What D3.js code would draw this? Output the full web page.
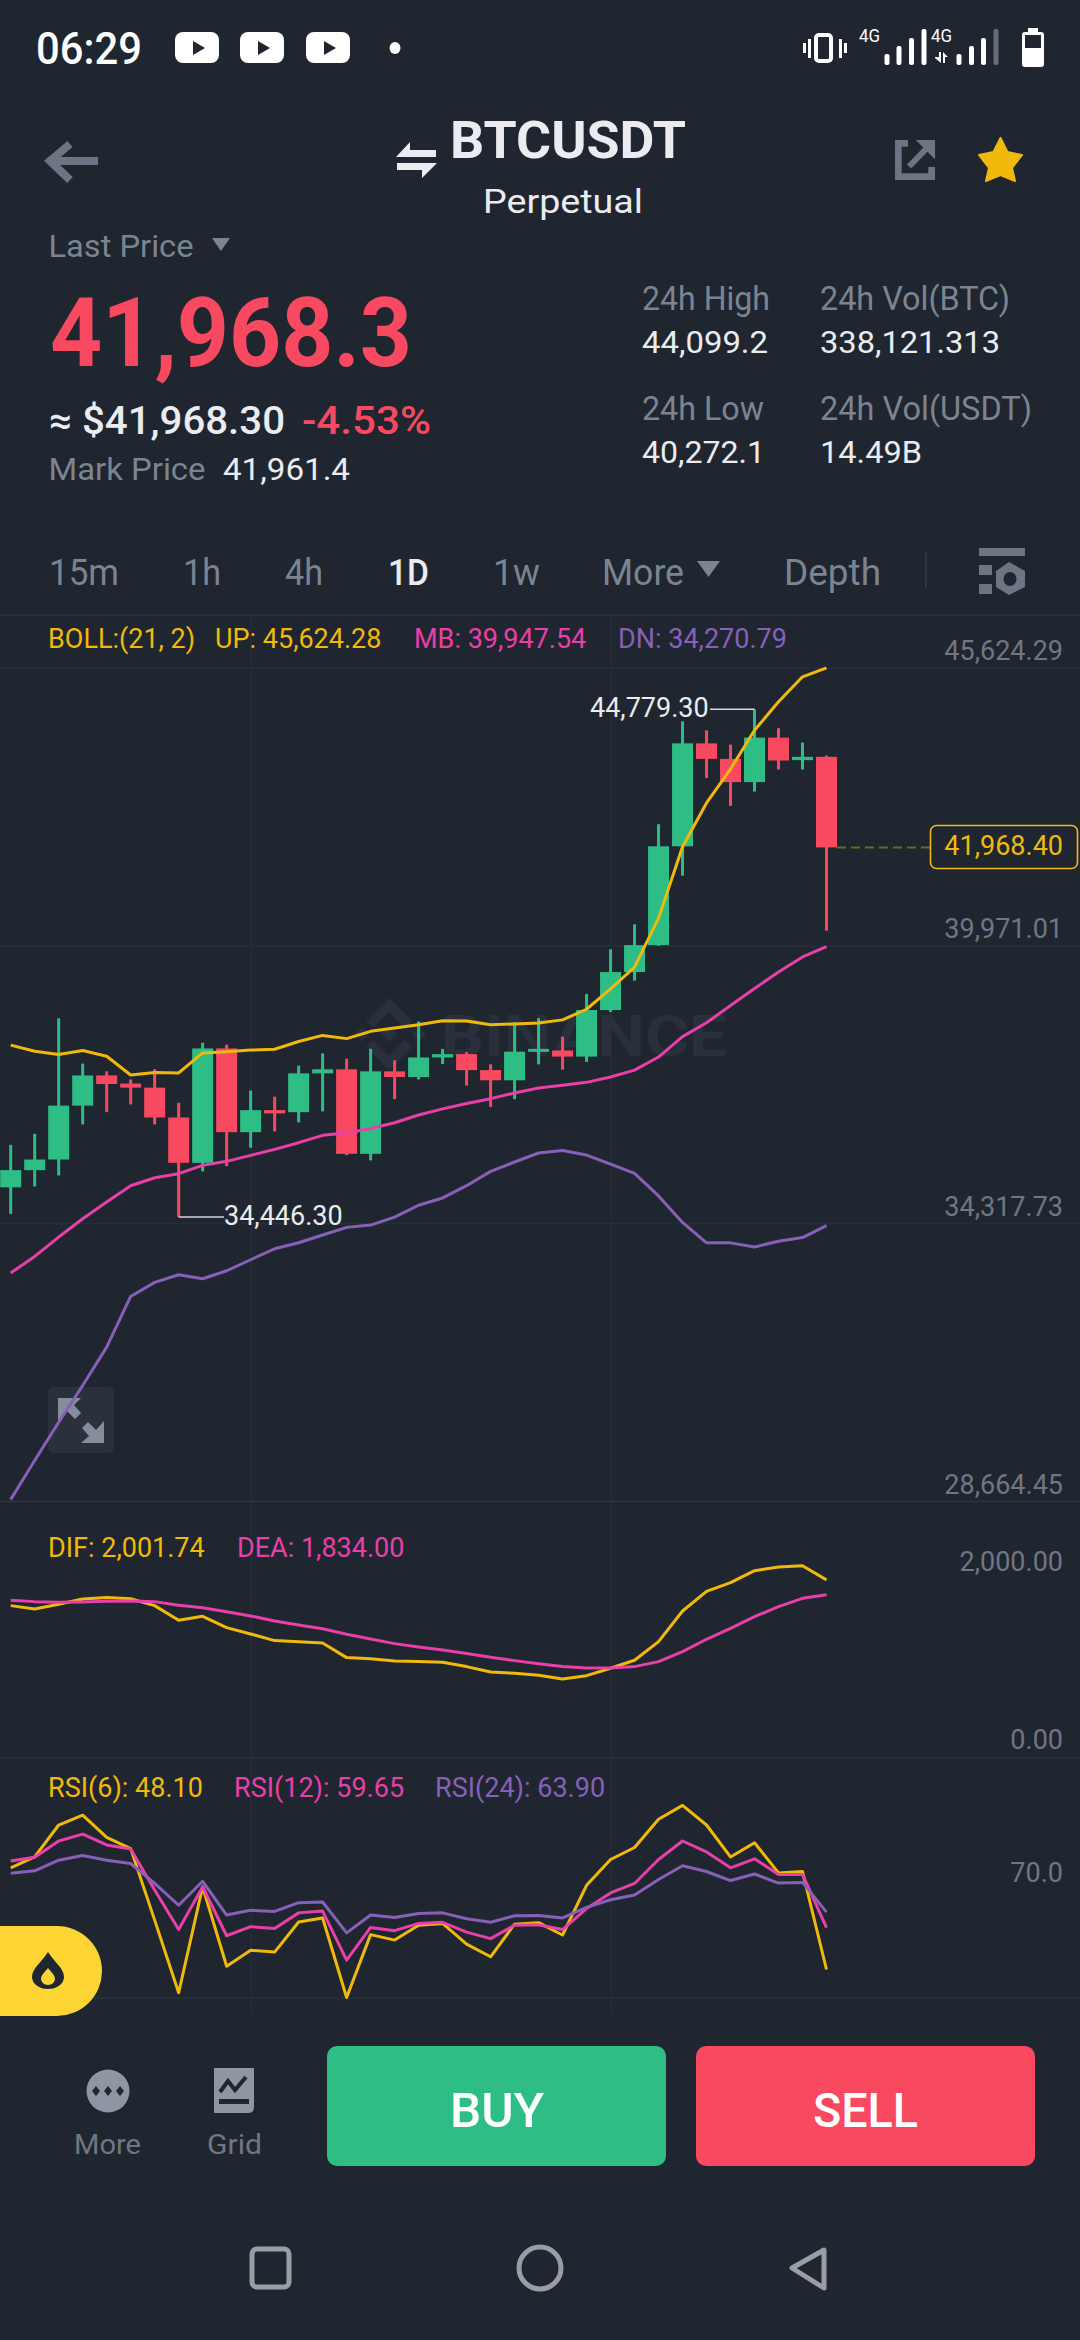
<!DOCTYPE html>
<html><head><meta charset="utf-8">
<script src="https://cdn.jsdelivr.net/npm/d3@7"></script>
<style>html,body{margin:0;padding:0;background:#1f2630}svg{display:block}text{font-family:Roboto,sans-serif}</style>
</head><body><div id="c"></div>
<script>
const opens =[35049,35399,35615,36712,37327,37161,37078,36471,35548,37876,36172,36621,36579,37369,37452,35731,37410,37294,37693,37760,37435,37228,37810,37835,37710,38658,39431,39979,41991,44086,43770,43297,44203,43745,43812];
const highs =[35914,36138,38491,37568,37410,37244,37452,36770,37992,37951,37020,36895,37527,37776,37668,37868,37635,38425,37868,37801,37552,38408,38491,38117,38982,39896,40403,42440,44535,44352,44061,44779.3,44394,44103,43837];
const lows  =[34509,35066,35291,36330,36579,36737,36330,34446.3,35374,35482,35856,36188,36371,36596,35706,35598,36845,37244,37560,37120,36687,36845,37552,37444,37602,38616,39256,39963,41393,43380,42814,43105,43554,43554,40272.1];
const closes=[35399,35615,36712,37327,37153,37078,36471,35548,37876,36172,36621,36554,37369,37452,35731,37410,37294,37693,37760,37435,37228,37810,37868,37710,38658,39431,39979,41991,44086,43770,43297,44203,43737,43812,41968.4];
const bollUp=[37943,37818,37751,37835,37718,37336,37386,37377,37785,37810,37843,37860,38017,38142,38076,38225,38292,38358,38441,38433,38358,38375,38392,38458,38674,39090,39530,40528,41983,42873,43563,44352,44934,45441,45624.28];
const bollMb=[33304,33643,34037,34410,34750,35082,35245,35327,35496,35578,35700,35822,35958,36107,36155,36247,36363,36521,36646,36754,36854,36970,37070,37128,37186,37294,37435,37701,38117,38400,38749,39098,39431,39738,39947.54];
const bollDn=[28694,29488,30269,31016,31796,32828,33114,33270,33188,33351,33575,33799,33921,34078,34234,34281,34444,34684,34833,35083,35374,35565,35748,35798,35706,35523,35332,34875,34334,33919,33919,33836,33952,34027,34270.79];
const dif=[1712,1674,1727,1787,1802,1790,1712,1547,1592,1465,1394,1319,1307,1292,1128,1116,1090,1083,1075,1027,967,952,929,888,925,1008,1098,1307,1652,1873,1970,2105,2146,2161,2001.74];
const dea=[1772,1757,1749,1753,1761,1764,1757,1716,1689,1644,1596,1540,1495,1453,1390,1337,1285,1247,1214,1173,1131,1094,1060,1027,1012,1012,1027,1083,1195,1334,1457,1588,1701,1794,1834];
const rsi6=[76.1,79.1,87.9,90.6,84.5,81.4,61.7,41.7,70.9,49.0,53.4,52.9,61.2,62.3,40.4,57.7,56.2,60.3,60.8,55.1,51.6,60.6,61.0,57.6,71.3,78.4,81.7,89.5,93.3,87.9,79.1,83.0,74.7,75.1,48.1];
const rsi12=[78.0,79.0,83.5,85.4,82.4,81.3,70.0,59.1,70.9,57.4,59.9,59.4,63.7,64.2,50.7,59.7,58.8,60.8,61.1,58.4,56.6,60.3,60.4,59.1,64.9,69.2,71.8,78.4,83.5,80.5,76.1,78.6,74.3,74.3,59.65];
const rsi24=[74.6,75.3,78.2,79.5,78.2,77.3,71.8,65.8,72.4,63.1,64.4,64.1,66.5,66.7,58.2,63.1,62.4,63.5,63.7,62.1,61.1,62.9,63.0,62.3,65.2,67.3,68.6,72.9,76.7,75.1,72.6,74.4,71.9,72.1,63.9];
const priceTicks=[45624.29,39971.01,34317.73,28664.45];
const macdTicks=[2000,0];
const rsiTicks=[70];
const timeGridIdx=[10,25];
const tabs=["15m","1h","4h","1D","1w","More","Depth"];

const GOLD="#f0b90b",PINK="#e83fa8",PURP="#8660b9",GREEN="#2ebd85",RED="#f84960",GREY="#7b8491",LIGHT="#eaecef",AXIS="#6f7783",BG="#1f2630";
const svg=d3.select("#c").append("svg").attr("width",1080).attr("height",2340).attr("viewBox","0 0 1080 2340");
svg.append("rect").attr("width",1080).attr("height",2340).attr("fill",BG);

function t(s,x,y,size,fill,o={}){
  const e=svg.append("text").attr("x",x).attr("y",y).attr("font-size",size).attr("fill",fill).text(s)
    .attr("font-weight",o.w||400).attr("text-anchor",o.a||"start");
  if(o.len) e.attr("textLength",o.len).attr("lengthAdjust","spacingAndGlyphs");
  return e;
}

/* scales */
const x=d3.scaleLinear().domain([0,34]).range([10.7,826.5]);
const y=d3.scaleLinear().domain([28664.45,45624.29]).range([1501,667.8]);
const yM=d3.scaleLinear().domain([0,2000]).range([1758,1580]);
const yR=d3.scaleLinear().domain([40.25,70]).range([1998,1890]);

/* grid: verticals */
const gv=svg.append("g").attr("transform","translate(0,2015)").call(d3.axisBottom(x).tickValues(timeGridIdx).tickSize(-1400).tickFormat(""));
gv.select(".domain").remove();gv.selectAll("line").attr("stroke","#262d38").attr("stroke-width",1.5);

/* watermark */
svg.append("path").attr("fill","#2a303b").attr("d","M389 998L412 1021L405 1028L389 1012L373 1028L366 1021ZM389 1070L412 1047L405 1040L389 1056L373 1040L366 1047ZM389 1026L397 1034L389 1042L381 1034ZM362 1027L369 1034L362 1041L355 1034ZM419 1027L426 1034L419 1041L412 1034Z");
t("BINANCE",441,1056,58,"#2a303b",{w:700,len:286});

/* expand button */
svg.append("rect").attr("x",48).attr("y",1387).attr("width",66).attr("height",66).attr("rx",6).attr("fill","#2b313c");
svg.append("path").attr("fill","#848e9c").attr("d","M58 1398H81L74 1405L81 1413L75 1419L67 1411L58 1421ZM104 1443H81L89 1436L82 1428L88 1422L96 1430L104 1421Z");

/* price axis */
const ga=svg.append("g").attr("transform","translate(1080,0)").call(d3.axisLeft(y).tickValues(priceTicks).tickSize(1080).tickFormat(d3.format(",.2f")));
ga.select(".domain").remove();
ga.selectAll("line").attr("stroke",d=>d===28664.45?"#30363f":"#272e39").attr("stroke-width",1.5);
ga.selectAll("text").attr("x",-17).attr("dy",0).attr("y",-8).attr("font-size",27).attr("fill",AXIS).attr("text-anchor","end").style("font-family","Roboto");

/* candles */
const idx=d3.range(opens.length);
const isUp=i=>closes[i]>opens[i];
svg.append("g").selectAll("line").data(idx).join("line")
  .attr("x1",x).attr("x2",x).attr("y1",i=>y(highs[i])).attr("y2",i=>y(lows[i]))
  .attr("stroke",i=>isUp(i)?GREEN:RED).attr("stroke-width",3);
svg.append("g").selectAll("rect").data(idx).join("rect")
  .attr("x",i=>x(i)-10.5).attr("width",21)
  .attr("y",i=>y(Math.max(opens[i],closes[i]))).attr("height",i=>Math.max(3,Math.abs(y(opens[i])-y(closes[i]))))
  .attr("fill",i=>isUp(i)?GREEN:RED);

function path(arr,sc,col,w){
  svg.append("path").datum(arr).attr("fill","none").attr("stroke",col).attr("stroke-width",w).attr("stroke-linejoin","round")
   .attr("d",d3.line().x((d,i)=>x(i)).y(d=>sc(d)));
}
path(bollUp,y,GOLD,3);path(bollMb,y,PINK,3);path(bollDn,y,PURP,3);

/* hi/lo annotations */
const hiI=d3.maxIndex(highs),loI=d3.minIndex(lows);
svg.append("line").attr("x1",x(hiI)).attr("x2",710).attr("y1",y(highs[hiI])).attr("y2",y(highs[hiI])).attr("stroke","#d5d7da").attr("stroke-width",1.5);
t(d3.format(",.2f")(highs[hiI]),590,717,27,LIGHT);
svg.append("line").attr("x1",x(loI)).attr("x2",224).attr("y1",y(lows[loI])).attr("y2",y(lows[loI])).attr("stroke","#d5d7da").attr("stroke-width",1.5);
t(d3.format(",.2f")(lows[loI]),224,1225,27,LIGHT);

/* last price tag */
const lastC=closes[closes.length-1];
svg.append("line").attr("x1",x(34)+10.5).attr("x2",930).attr("y1",y(lastC)).attr("y2",y(lastC)).attr("stroke","#75641f").attr("stroke-width",2).attr("stroke-dasharray","9 5");
svg.append("rect").attr("x",930.5).attr("y",825.5).attr("width",147).attr("height",43).attr("rx",6).attr("fill",BG).attr("stroke",GOLD).attr("stroke-width",1.6);
t(d3.format(",.2f")(lastC),1063,855,27,GOLD,{a:"end"});

/* legends */
t("BOLL:(21, 2)",48,648,27,GOLD);t("UP: "+d3.format(",.2f")(bollUp[34]),215,648,27,GOLD);
t("MB: "+d3.format(",.2f")(bollMb[34]),414,648,27,PINK);t("DN: "+d3.format(",.2f")(bollDn[34]),618,648,27,PURP);

/* MACD pane */
const gm=svg.append("g").attr("transform","translate(1080,0)").call(d3.axisLeft(yM).tickValues(macdTicks).tickSize(0).tickFormat(d3.format(",.2f")));
gm.select(".domain").remove();
gm.selectAll("text").attr("x",-17).attr("dy",0).attr("y",-10).attr("font-size",27).attr("fill",AXIS).attr("text-anchor","end").style("font-family","Roboto");
svg.append("line").attr("x1",0).attr("x2",1080).attr("y1",1758).attr("y2",1758).attr("stroke","#2c323c").attr("stroke-width",1.5);
path(dif,yM,GOLD,3);path(dea,yM,PINK,3);
t("DIF: "+d3.format(",.2f")(dif[34]),48,1557,27,GOLD);t("DEA: "+d3.format(",.2f")(dea[34]),237,1557,27,PINK);

/* RSI pane */
const gr=svg.append("g").attr("transform","translate(1080,0)").call(d3.axisLeft(yR).tickValues(rsiTicks).tickSize(0).tickFormat(d3.format(".1f")));
gr.select(".domain").remove();
gr.selectAll("text").attr("x",-17).attr("dy",0).attr("y",-9).attr("font-size",27).attr("fill",AXIS).attr("text-anchor","end").style("font-family","Roboto");
svg.append("line").attr("x1",0).attr("x2",1080).attr("y1",1998).attr("y2",1998).attr("stroke","#2a303a").attr("stroke-width",1.5);
path(rsi6,yR,GOLD,3);path(rsi12,yR,PINK,3);path(rsi24,yR,PURP,3);
t("RSI(6): "+rsi6[34].toFixed(2),48,1797,27,GOLD);t("RSI(12): "+rsi12[34].toFixed(2),234,1797,27,PINK);t("RSI(24): "+rsi24[34].toFixed(2),435,1797,27,PURP);

/* status bar */
t("06:29",36,64,44,"#fff",{w:500,len:106});
[175,240,306].forEach(a=>{
  svg.append("rect").attr("x",a).attr("y",32).attr("width",44).attr("height",31).attr("rx",8).attr("fill","#fff");
  svg.append("path").attr("d",`M${a+18} 41L${a+30} 48L${a+18} 55Z`).attr("fill",BG);
});
svg.append("ellipse").attr("cx",395).attr("cy",48).attr("rx",5.5).attr("ry",6).attr("fill","#fff");
svg.append("rect").attr("x",816).attr("y",35).attr("width",15).attr("height",26).attr("rx",3).attr("fill","none").attr("stroke","#fff").attr("stroke-width",4);
[[803,43,10],[808,39,19],[839,39,19],[844,43,10]].forEach(([a,b,h])=>svg.append("rect").attr("x",a).attr("y",b).attr("width",3).attr("height",h).attr("fill","#fff"));
t("4G",859,42,19,"#fff",{len:21});t("4G",931,42,19,"#fff",{len:21});
[[884.5,54],[896.5,46],[909,38],[921.5,29],[956.5,54],[969,46],[981,38],[993.5,29]].forEach(([a,b],i)=>svg.append("rect").attr("x",a).attr("y",b).attr("width",5).attr("height",65-b).attr("rx",2).attr("fill",i===7?"#666d77":"#fff"));
svg.append("path").attr("fill","#fff").attr("d","M935 57L939 57V52H941V63L935 58ZM943 52L948 57H945V63H943Z");
svg.append("rect").attr("x",1028).attr("y",28).attr("width",10).attr("height",5).attr("fill","#fff");
svg.append("rect").attr("x",1022).attr("y",32).attr("width",22).attr("height",35).attr("rx",3).attr("fill","#fff");
svg.append("rect").attr("x",1025).attr("y",35).attr("width",16).attr("height",13).attr("fill",BG);

/* header */
const NAV="#6b7583";
svg.append("path").attr("fill","none").attr("stroke",NAV).attr("stroke-width",8).attr("d","M98 161H52M70 144L50 161L70 180");
svg.append("path").attr("fill",LIGHT).attr("d","M396 157L410 142V150H436V157ZM397 163H437L422 178V170H397Z");
t("BTCUSDT",450,158,52,LIGHT,{w:700,len:236});
t("Perpetual",483,213,33,LIGHT,{w:400,len:160});
svg.append("path").attr("fill",NAV).attr("d","M895 140H908V146.7H901.7V173.3H928.3V167H935V180H895ZM915.7 140H935V159.3Z");
svg.append("line").attr("x1",909).attr("y1",166.5).attr("x2",928).attr("y2",147).attr("stroke",NAV).attr("stroke-width",6);
svg.append("path").attr("fill",GOLD).attr("stroke",GOLD).attr("stroke-width",2).attr("stroke-linejoin","round").attr("d","M1000.5 138L1007.5 152L1022 155L1012 168L1015 181L1000.5 175L986 181L989 168L979 155L993.5 152Z");

t("Last Price",48.5,257,32,GREY,{len:145});
svg.append("path").attr("fill",GREY).attr("d","M212 238H230L221 251Z");
t("41,968.3",50,366,96,RED,{w:700,len:362});
t("≈ $41,968.30",49,434,39,LIGHT,{w:500,len:236});
t("-4.53%",302,434,39,RED,{w:500,len:129});
t("Mark Price",48.5,480,32,GREY,{len:157});
t("41,961.4",223,480,31,LIGHT,{len:127});
t("24h High",642,310,33,GREY,{len:128});t("44,099.2",642,353,32,LIGHT,{len:126});
t("24h Vol(BTC)",820,310,33,GREY,{len:190});t("338,121.313",820,353,32,LIGHT,{len:180});
t("24h Low",642,420,33,GREY,{len:122});t("40,272.1",642,463,32,LIGHT,{len:123});
t("24h Vol(USDT)",820,420,33,GREY,{len:212});t("14.49B",820,463,32,LIGHT,{len:102});

/* tabs */
const tabX=[[49,70],[183,38],[285,38],[388,41],[493,47],[602,82],[784,97]];
tabs.forEach((s,i)=>t(s,tabX[i][0],585,36,s==="1D"?LIGHT:GREY,{len:tabX[i][1],w:s==="1D"?500:400}));
svg.append("path").attr("fill",GREY).attr("d","M697 561H720L708.5 577Z");
svg.append("line").attr("x1",926).attr("x2",926).attr("y1",552).attr("y2",587).attr("stroke","#323842").attr("stroke-width",2);
svg.append("rect").attr("x",979).attr("y",548).attr("width",46).attr("height",8).attr("fill",NAV);
svg.append("rect").attr("x",979).attr("y",565).attr("width",13).attr("height",10).attr("fill",NAV);
svg.append("rect").attr("x",979).attr("y",584).attr("width",13).attr("height",10).attr("fill",NAV);
svg.append("path").attr("fill",NAV).attr("fill-rule","evenodd").attr("d","M1009 562L1025 571V587L1009 595L996 587V571ZM1010 572A6.5 7 0 1 0 1010 586A6.5 7 0 1 0 1010 572Z");
svg.append("line").attr("x1",0).attr("x2",1080).attr("y1",615).attr("y2",615).attr("stroke","#2b3139").attr("stroke-width",2);

/* flame tab */
svg.append("path").attr("fill","#fcd535").attr("d","M0 1926H57A45 45 0 0 1 102 1971A45 45 0 0 1 57 2016H0Z");
svg.append("path").attr("fill",BG).attr("d","M48 1952C54 1962 64 1968 64 1977A16 12 0 0 1 32 1977C32 1968 42 1962 48 1952Z");
svg.append("path").attr("fill","#fcd535").attr("d","M48 1968C51 1972 55 1975 55 1979A7 6 0 0 1 41 1979C41 1975 45 1972 48 1968Z");

/* bottom bar */
svg.append("circle").attr("cx",108).attr("cy",2091).attr("r",21.5).attr("fill","#8f96a3");
[96,108,120].forEach(a=>svg.append("path").attr("fill",BG).attr("d",`M${a} 2086L${a+4} 2091L${a} 2096L${a-4} 2091Z`));
svg.append("path").attr("fill","#8f96a3").attr("d","M214 2068H254V2107Q254 2113 248 2113H214Z");
svg.append("path").attr("fill","none").attr("stroke",BG).attr("stroke-width",4).attr("d","M220 2092L228 2081L235 2090L246 2077");
svg.append("rect").attr("x",219).attr("y",2099).attr("width",30).attr("height",5).attr("fill",BG);
t("More",74,2154,28,AXIS,{len:67});t("Grid",207,2154,28,AXIS,{len:55});
svg.append("rect").attr("x",327).attr("y",2046).attr("width",339).attr("height",120).attr("rx",10).attr("fill",GREEN);
svg.append("rect").attr("x",696).attr("y",2046).attr("width",339).attr("height",120).attr("rx",10).attr("fill",RED);
t("BUY",450,2127,48,"#fff",{w:500,len:94});t("SELL",813,2127,48,"#fff",{w:500,len:105});

/* nav */
const NV="#9a9da3";
svg.append("rect").attr("x",252).attr("y",2249).attr("width",37).attr("height",38).attr("rx",5).attr("fill","none").attr("stroke",NV).attr("stroke-width",5);
svg.append("circle").attr("cx",540).attr("cy",2268).attr("r",21).attr("fill","none").attr("stroke",NV).attr("stroke-width",5);
svg.append("path").attr("fill","none").attr("stroke",NV).attr("stroke-width",5).attr("stroke-linejoin","round").attr("d","M824 2250V2288L792 2268Z");
</script></body></html>
